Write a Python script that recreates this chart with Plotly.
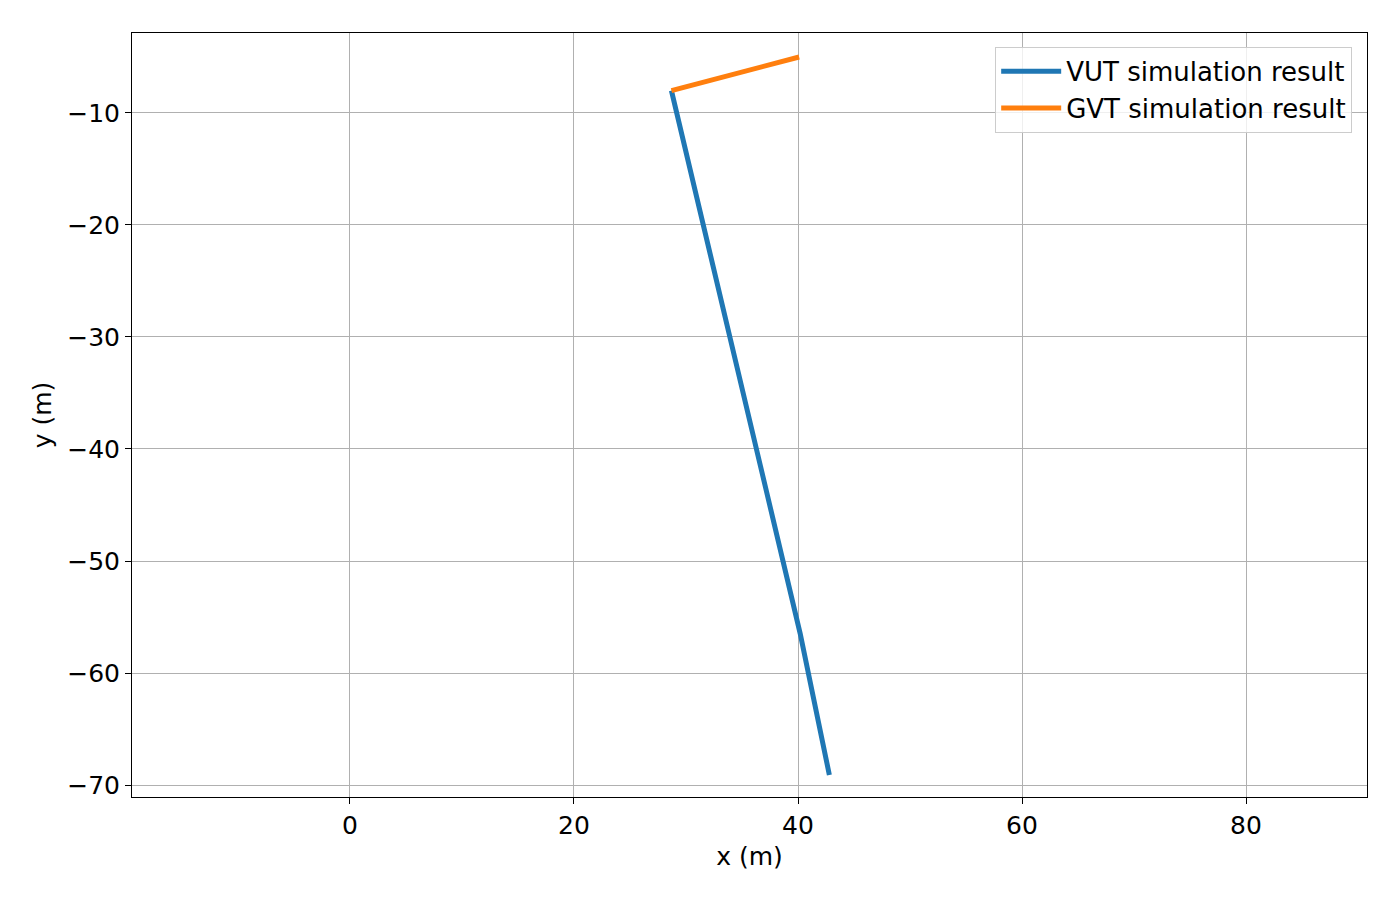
import plotly.graph_objects as go

# trajectories
vut_x = [28.7, 34.5, 40.2, 42.8]
vut_y = [-8.0, -32.5, -56.5, -69.1]
gvt_x = [28.7, 34.4, 40.1]
gvt_y = [-8.0, -6.5, -5.0]

fig = go.Figure()
fig.add_trace(go.Scatter(x=vut_x, y=vut_y, mode="lines", name="VUT simulation result",
                         line=dict(color="#1f77b4", width=5)))
fig.add_trace(go.Scatter(x=gvt_x, y=gvt_y, mode="lines", name="GVT simulation result",
                         line=dict(color="#ff7f0e", width=5)))

axis_style = dict(showgrid=True, gridcolor="#b0b0b0", gridwidth=1, zeroline=False,
                  showline=True, linecolor="black", linewidth=1, mirror=True,
                  ticks="outside", ticklen=6, tickcolor="black",
                  tickfont=dict(size=25, color="black"))

fig.update_xaxes(range=[-19.46, 90.8], tickvals=[0, 20, 40, 60, 80],
                 title=dict(text="x (m)", font=dict(size=25, color="black"), standoff=8),
                 **axis_style)
fig.update_yaxes(range=[-71.07, -2.86], tickvals=[-70, -60, -50, -40, -30, -20, -10],
                 ticktext=["\u221270", "\u221260", "\u221250", "\u221240", "\u221230", "\u221220", "\u221210"],
                 title=dict(text="y (m)", font=dict(size=25, color="black"), standoff=8),
                 **axis_style)

fig.update_layout(
    width=1400, height=898,
    margin=dict(l=124, r=41, t=25, b=109),
    plot_bgcolor="white", paper_bgcolor="white",
    font=dict(family="DejaVu Sans", color="black"),
    legend=dict(x=0.988, y=0.982, xanchor="right", yanchor="top",
                bordercolor="#cccccc", borderwidth=1, bgcolor="rgba(255,255,255,0.8)",
                font=dict(size=26), itemwidth=60, tracegroupgap=4),
)

fig.write_html("out.html")
